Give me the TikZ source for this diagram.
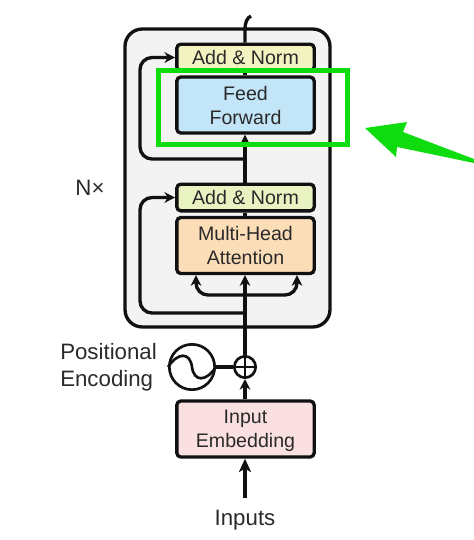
\documentclass[tikz,border=0pt]{standalone}
\usepackage{fontspec}
\setmainfont{Liberation Sans}
\usetikzlibrary{arrows.meta,calc}
\definecolor{ink}{HTML}{111111}
\definecolor{txt}{HTML}{2A2A2A}
\definecolor{panel}{HTML}{F3F3F3}
\definecolor{normA}{HTML}{F3F3C2}
\definecolor{normB}{HTML}{E9F3C2}
\definecolor{ffc}{HTML}{C2E5F8}
\definecolor{mhac}{HTML}{FBDDB8}
\definecolor{embc}{HTML}{FBE0E1}
\definecolor{grn}{HTML}{0FDC0F}
\tikzset{
  x=0.75pt,y=-0.75pt,
  block/.style={draw=ink,line width=2.5pt,rounded corners=3pt,minimum width=103pt,inner sep=0pt,
    align=center,text=txt,font=\fontsize{14.7}{18}\selectfont},
  lab/.style={text=txt,font=\fontsize{16.7}{21}\selectfont,inner sep=0pt},
  wire/.style={draw=ink,line width=2.5pt},
  arr/.style={wire,-{Stealth[length=10pt,width=9pt,inset=2.5pt]}},
  arrs/.style={wire,-{Stealth[length=8pt,width=8pt,inset=2.5pt]}},
}
\begin{document}
\begin{tikzpicture}
\useasboundingbox (0,0) rectangle (474,540);
\node[draw=ink,line width=2.5pt,fill=panel,rounded corners=13pt,minimum width=153.75pt,minimum height=223.5pt,inner sep=0pt] (panelbox) at (227.5,178) {};
\node[block,fill=normA,minimum height=20pt] (an2) at (245.5,57.5) {Add \& Norm};
\node[block,fill=ffc,minimum height=42pt] (ff) at (245.5,105) {Feed\\Forward};
\node[block,fill=normB,minimum height=20pt] (an1) at (245.5,197.5) {Add \& Norm};
\node[block,fill=mhac,minimum height=42pt] (mha) at (245.5,245.5) {Multi-Head\\Attention};
\node[block,fill=embc,minimum height=42pt] (emb) at (245.5,429) {\rule{0pt}{13.4pt}Input\\Embedding};
\node[draw=ink,line width=2pt,circle,minimum size=16pt,inner sep=0pt,fill=white] (plus) at (245,367) {};
\node[draw=ink,line width=2pt,circle,minimum size=34pt,inner sep=0pt,fill=white] (pe) at (192,367) {};
\coordinate (top) at (251,16);
\coordinate (in) at (245,498);
\coordinate (j1) at (245,159);
\coordinate (j2) at (245,313);
\coordinate (j3) at (245,295);
% vertical wires
\draw[wire] (an2.north -| 245,0) -- (245,30) .. controls (245,22) and (247,18) .. (top);
\draw[wire] (ff.north -| 245,0) -- (an2.south -| 245,0);
\draw[arrs] (an1.north -| 245,0) -- (ff.south -| 245,0);
\draw[wire] (mha.north -| 245,0) -- (an1.south -| 245,0);
\draw[arrs] (plus.north) -- (mha.south -| 245,0);
\draw[arrs] (emb.north -| 245,0) -- (plus.south);
\draw[arr] (in) -- (emb.south -| 245,0);
\draw[wire] (pe.east) -- (plus.west);
% residuals
\draw[arrs,rounded corners=9pt] (j1) -- (140,159) -- (140,57.5) -- (an2.west);
\draw[arrs,rounded corners=9pt] (j2) -- (140,313) -- (140,197.5) -- (an1.west);
% attention fork
\draw[arrs,rounded corners=9pt] (j3) -- (196,295) -- (mha.south -| 196,0);
\draw[arrs,rounded corners=9pt] (j3) -- (297,295) -- (mha.south -| 297,0);
% sine
\draw[ink,line width=2pt] (pe.west) .. controls (178,352) and (190,352) .. (192,367) .. controls (194,382) and (206,382) .. (pe.east);
% plus sign
\draw[ink,line width=1.4pt] (plus.north) -- (plus.south) (plus.west) -- (plus.east);
% labels
\node[lab] (nx) at (90,188) {N×};
\node[lab,anchor=west] (pos1) at (60,352) {Positional};
\node[lab,anchor=west] (pos2) at (60,381) {Encoding};
\node[lab] (inputs) at (245,520) {Inputs};
% highlight
\node[draw=grn,line width=3.9pt,minimum width=141.5pt,minimum height=55.5pt,inner sep=0pt] (hl) at (253,107.5) {};
\fill[grn] (365,128) -- (407,122) -- (403,132) -- (474,159) -- (474,163) -- (397,147) -- (396,157) -- cycle;
\end{tikzpicture}
\end{document}
